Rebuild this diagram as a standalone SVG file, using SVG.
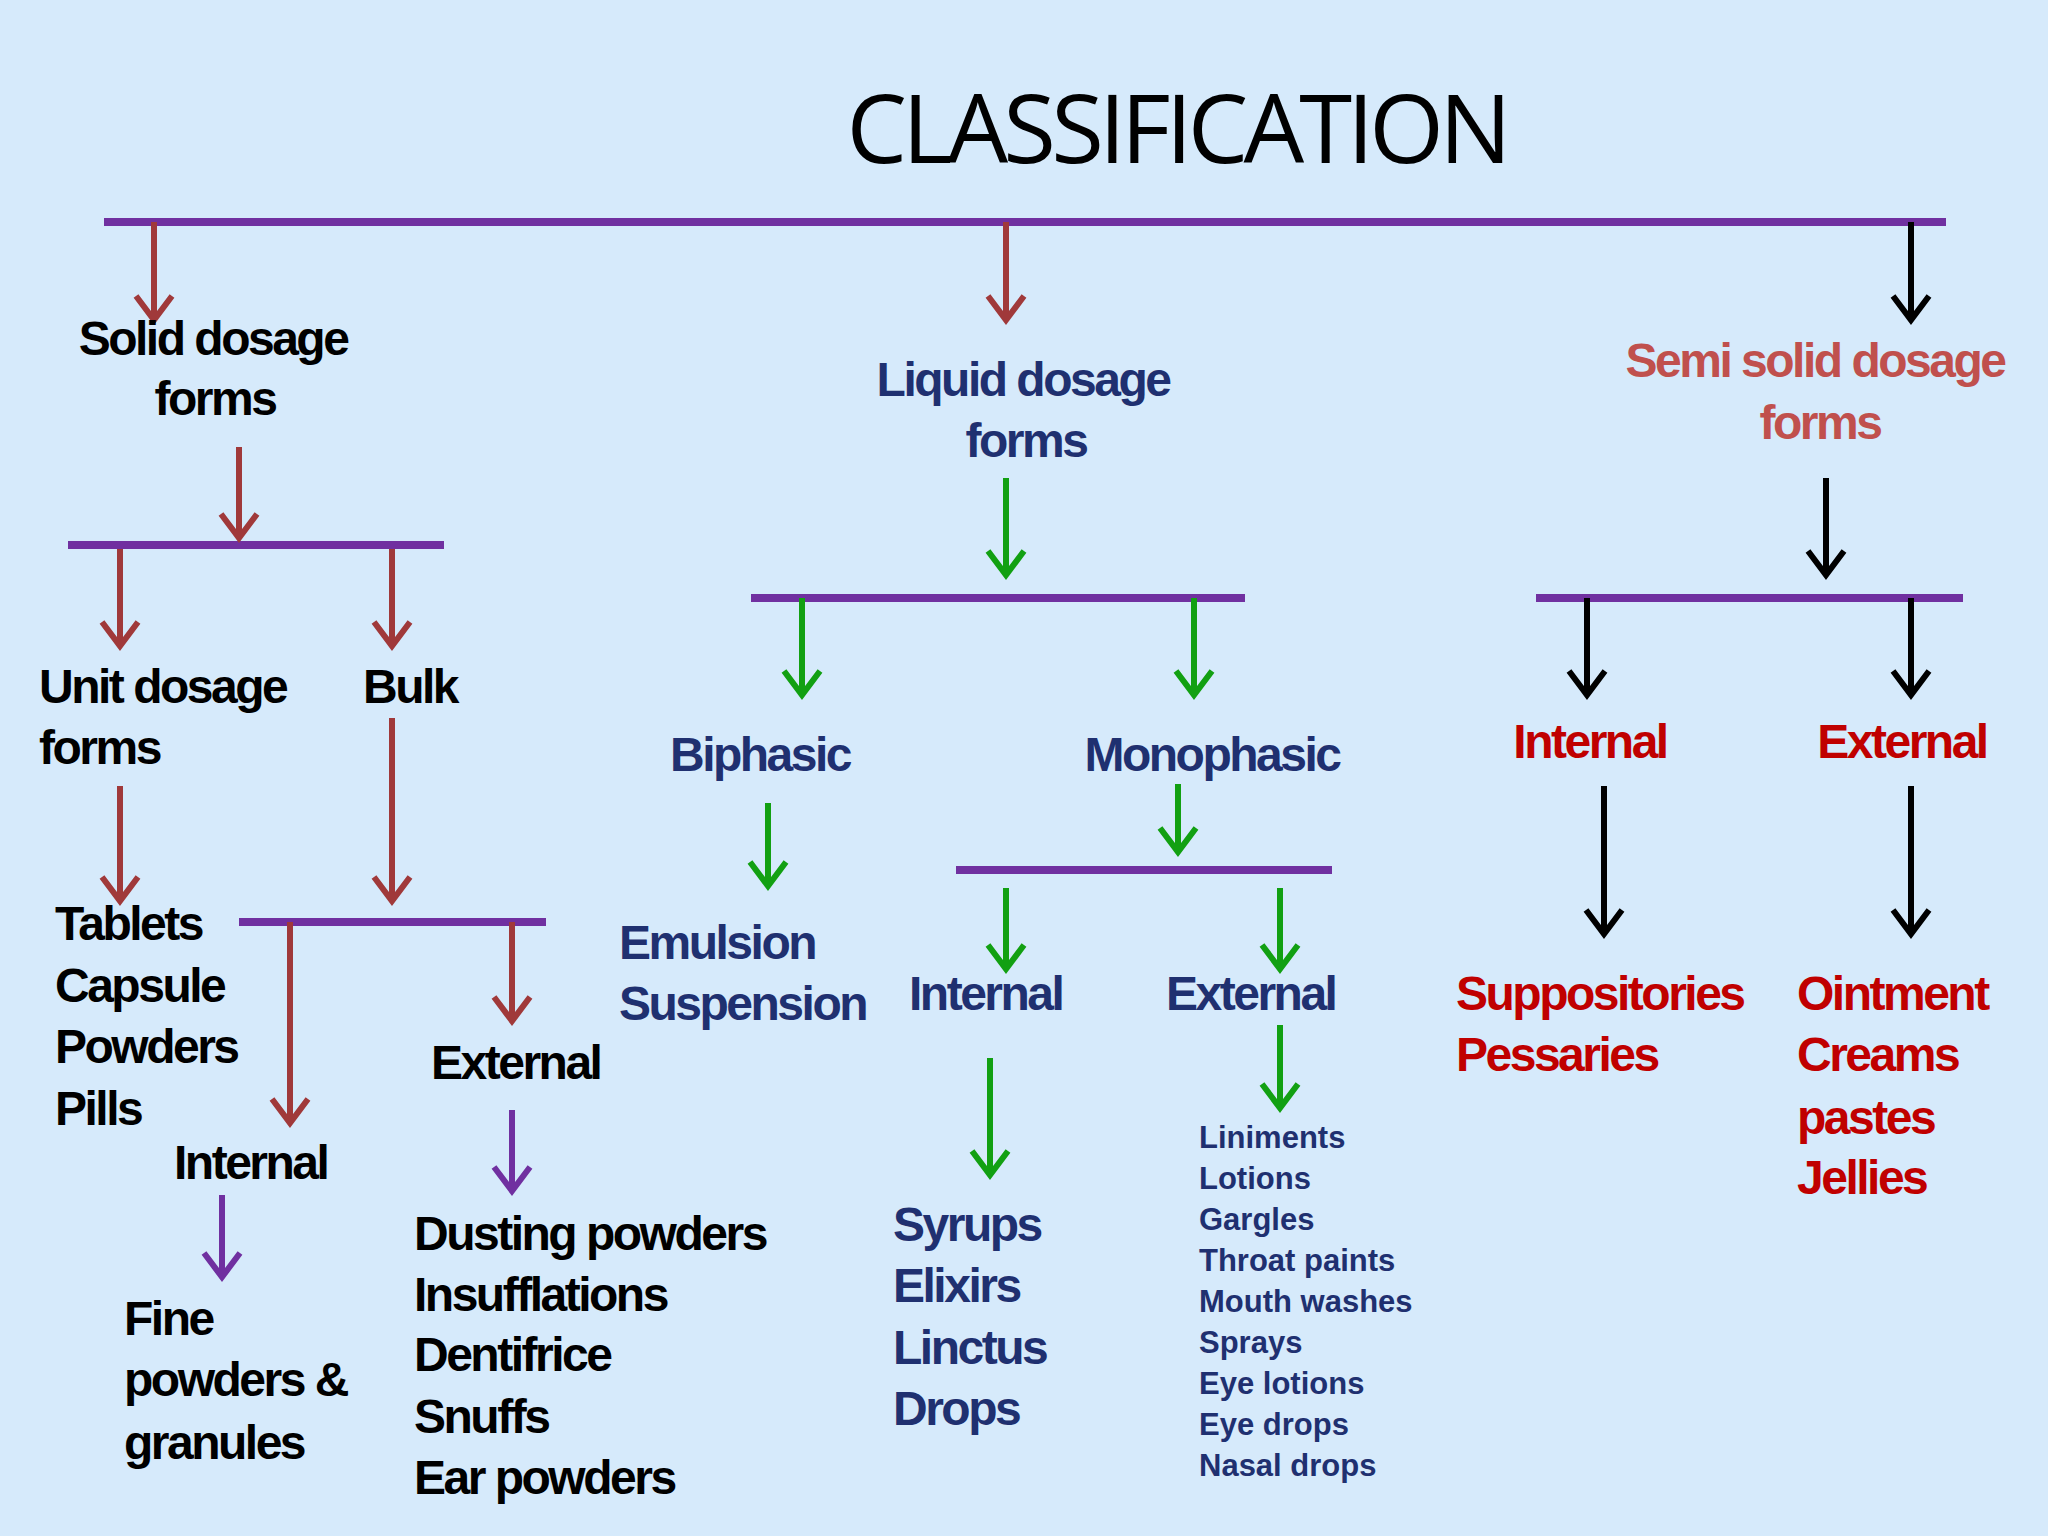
<svg xmlns="http://www.w3.org/2000/svg" width="2048" height="1536" viewBox="0 0 2048 1536">
<style>
.t{font-family:"Liberation Sans",Arial,sans-serif;font-weight:bold;font-size:48px;letter-spacing:-2.5px}
.s{font-family:"Liberation Sans",Arial,sans-serif;font-weight:bold;font-size:31px;fill:#1F3070}
.k{fill:#000}.n{fill:#1F3070}.r{fill:#C00000}.p{fill:#C0504D}
.bar{stroke:#7030A0;stroke-width:8;fill:none}
.a{fill:none;stroke-width:6}
.red{stroke:#A0393A}.grn{stroke:#12A012}.blk{stroke:#000}.pur{stroke:#7030A0}
</style>
<rect width="2048" height="1536" fill="#D6EAFB"/>
<text x="1179" y="163" text-anchor="middle" font-family="Open Sans,sans-serif" font-size="96" textLength="665" fill="#000">CLASSIFICATION</text>
<g id="bars">
<line class="bar" x1="104" y1="222" x2="1946" y2="222"/>
<line class="bar" x1="68" y1="545" x2="444" y2="545"/>
<line class="bar" x1="239" y1="922" x2="546" y2="922"/>
<line class="bar" x1="751" y1="598" x2="1245" y2="598"/>
<line class="bar" x1="956" y1="870" x2="1332" y2="870"/>
<line class="bar" x1="1536" y1="598" x2="1963" y2="598"/>
</g>
<g id="connectors">
<path class="a red" d="M154 222V320M136 296L154 320L172 296"/>
<path class="a red" d="M1006 222V320M988 296L1006 320L1024 296"/>
<path class="a blk" d="M1911 222V320M1893 296L1911 320L1929 296"/>
<path class="a red" d="M239 447V538M221 514L239 538L257 514"/>
<path class="a red" d="M120 549V646M102 622L120 646L138 622"/>
<path class="a red" d="M392 549V646M374 622L392 646L410 622"/>
<path class="a red" d="M120 786V901M102 877L120 901L138 877"/>
<path class="a red" d="M392 718V901M374 877L392 901L410 877"/>
<path class="a red" d="M290 922V1123M272 1099L290 1123L308 1099"/>
<path class="a red" d="M512 922V1021M494 997L512 1021L530 997"/>
<path class="a pur" d="M222 1195V1277M204 1253L222 1277L240 1253"/>
<path class="a pur" d="M512 1110V1191M494 1167L512 1191L530 1167"/>
<path class="a grn" d="M1006 478V575M988 551L1006 575L1024 551"/>
<path class="a grn" d="M802 598V695M784 671L802 695L820 671"/>
<path class="a grn" d="M1194 598V695M1176 671L1194 695L1212 671"/>
<path class="a grn" d="M768 803V886M750 862L768 886L786 862"/>
<path class="a grn" d="M1178 784V852M1160 828L1178 852L1196 828"/>
<path class="a grn" d="M1006 888V969M988 945L1006 969L1024 945"/>
<path class="a grn" d="M1280 888V969M1262 945L1280 969L1298 945"/>
<path class="a grn" d="M1280 1025V1108M1262 1084L1280 1108L1298 1084"/>
<path class="a grn" d="M990 1058V1175M972 1151L990 1175L1008 1151"/>
<path class="a blk" d="M1826 478V575M1808 551L1826 575L1844 551"/>
<path class="a blk" d="M1587 598V695M1569 671L1587 695L1605 671"/>
<path class="a blk" d="M1911 598V695M1893 671L1911 695L1929 671"/>
<path class="a blk" d="M1604 786V934M1586 910L1604 934L1622 910"/>
<path class="a blk" d="M1911 786V934M1893 910L1911 934L1929 910"/>
</g>
<g id="solid" class="t k" text-anchor="middle"><text x="213" y="355">Solid dosage</text><text x="215" y="415">forms</text></g>
<g id="liquid" class="t n" text-anchor="middle"><text x="1023" y="396">Liquid dosage</text><text x="1026" y="457">forms</text></g>
<g id="semisolid" class="t p" text-anchor="middle"><text x="1815" y="377">Semi solid dosage</text><text x="1820" y="439">forms</text></g>
<g id="unit" class="t k"><text x="39" y="703">Unit dosage</text><text x="39" y="764">forms</text></g>
<g id="bulk" class="t k"><text x="363" y="703">Bulk</text></g>
<g id="unitlist" class="t k"><text x="55" y="940">Tablets</text><text x="55" y="1002">Capsule</text><text x="55" y="1063">Powders</text><text x="55" y="1125">Pills</text></g>
<g id="bulkext" class="t k"><text x="431" y="1079">External</text></g>
<g id="bulkint" class="t k"><text x="174" y="1179">Internal</text></g>
<g id="fine" class="t k"><text x="124" y="1335">Fine</text><text x="124" y="1396">powders &amp;</text><text x="124" y="1459">granules</text></g>
<g id="dusting" class="t k"><text x="414" y="1250">Dusting powders</text><text x="414" y="1311">Insufflations</text><text x="414" y="1371">Dentifrice</text><text x="414" y="1433">Snuffs</text><text x="414" y="1494">Ear powders</text></g>
<g id="biphasic" class="t n" text-anchor="middle"><text x="760" y="771">Biphasic</text></g>
<g id="monophasic" class="t n" text-anchor="middle"><text x="1212" y="771">Monophasic</text></g>
<g id="emulsion" class="t n"><text x="619" y="959">Emulsion</text><text x="619" y="1020">Suspension</text></g>
<g id="monoint" class="t n"><text x="909" y="1010">Internal</text></g>
<g id="monoext" class="t n"><text x="1166" y="1010">External</text></g>
<g id="syrups" class="t n"><text x="893" y="1241">Syrups</text><text x="893" y="1302">Elixirs</text><text x="893" y="1364">Linctus</text><text x="893" y="1425">Drops</text></g>
<g id="liniments" class="s"><text x="1199" y="1148">Liniments</text><text x="1199" y="1189">Lotions</text><text x="1199" y="1230">Gargles</text><text x="1199" y="1271">Throat paints</text><text x="1199" y="1312">Mouth washes</text><text x="1199" y="1353">Sprays</text><text x="1199" y="1394">Eye lotions</text><text x="1199" y="1435">Eye drops</text><text x="1199" y="1476">Nasal drops</text></g>
<g id="semiint" class="t r" text-anchor="middle"><text x="1590" y="758">Internal</text></g>
<g id="semiext" class="t r" text-anchor="middle"><text x="1902" y="758">External</text></g>
<g id="supp" class="t r"><text x="1456" y="1010">Suppositories</text><text x="1456" y="1071">Pessaries</text></g>
<g id="oint" class="t r"><text x="1797" y="1010">Ointment</text><text x="1797" y="1071">Creams</text><text x="1797" y="1134">pastes</text><text x="1797" y="1194">Jellies</text></g>
</svg>
